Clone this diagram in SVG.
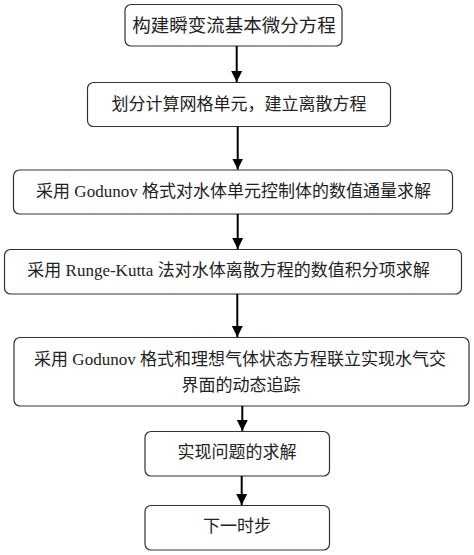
<svg xmlns="http://www.w3.org/2000/svg" width="474" height="555" viewBox="0 0 474 555">
<style>
.n rect{fill:#fff;stroke:#333;stroke-width:1.2}
text{font-family:"Liberation Serif","Noto Sans CJK SC",serif;font-size:17px;fill:#222;text-anchor:middle}
.c line{stroke:#000;stroke-width:2}
</style>
<defs>
<marker id="ah" viewBox="0 0 10 10" refX="10" refY="5" markerWidth="5.5" markerHeight="6" markerUnits="strokeWidth" orient="auto">
<path d="M0,0 L10,5 L0,10 z" fill="#000"/>
</marker>
</defs>
<rect width="474" height="555" fill="#fff"/>
<g class="n" id="n1"><rect x="125" y="4.5" width="217" height="41.5" rx="6"/><text x="234" y="32" style="font-size:18.5px">构建瞬变流基本微分方程</text></g>
<g class="n" id="n2"><rect x="87.5" y="82.5" width="303" height="44" rx="6"/><text x="239" y="109.5">划分计算网格单元，建立离散方程</text></g>
<g class="n" id="n3"><rect x="13.5" y="170" width="439" height="44" rx="6"/><text x="233.5" y="197">采用 Godunov 格式对水体单元控制体的数值通量求解</text></g>
<g class="n" id="n4"><rect x="4.5" y="249.5" width="457" height="44.5" rx="6"/><text x="228.5" y="276">采用 Runge-Kutta 法对水体离散方程的数值积分项求解</text></g>
<g class="n" id="n5"><rect x="14" y="337.5" width="455" height="68.5" rx="6"/><text x="240" y="365">采用 Godunov 格式和理想气体状态方程联立实现水气交</text><text x="241" y="391">界面的动态追踪</text></g>
<g class="n" id="n6"><rect x="145" y="431.5" width="184.5" height="44.5" rx="6"/><text x="237" y="458">实现问题的求解</text></g>
<g class="n" id="n7"><rect x="145" y="505.5" width="184.5" height="44.5" rx="6"/><text x="237" y="532">下一时步</text></g>
<g class="c" id="connectors">
<line x1="236.7" y1="46" x2="236.7" y2="82" marker-end="url(#ah)"/>
<line x1="237.7" y1="127" x2="237.7" y2="169.5" marker-end="url(#ah)"/>
<line x1="237.7" y1="214" x2="237.7" y2="249" marker-end="url(#ah)"/>
<line x1="237.3" y1="294" x2="237.3" y2="337" marker-end="url(#ah)"/>
<line x1="242.3" y1="406" x2="242.3" y2="431" marker-end="url(#ah)"/>
<line x1="241.7" y1="476" x2="241.7" y2="505" marker-end="url(#ah)"/>
</g>
</svg>
